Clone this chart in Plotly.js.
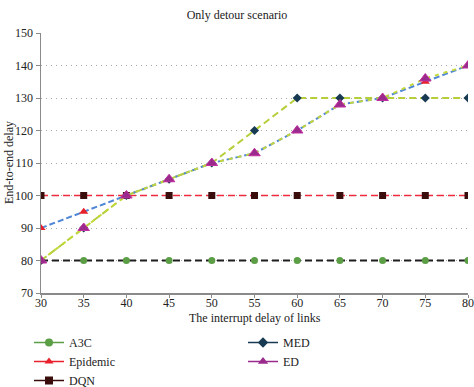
<!DOCTYPE html>
<html>
<head>
<meta charset="utf-8">
<script src="https://cdn.plot.ly/plotly-3.0.1.min.js"></script>
<style>html,body{margin:0;padding:0;background:#fff;}#chart{width:474px;height:387px;}</style>
</head>
<body>
<div id="chart"></div>
<script>
const xVals = [30, 35, 40, 45, 50, 55, 60, 65, 70, 75, 80];
const a3c = [80, 80, 80, 80, 80, 80, 80, 80, 80, 80, 80];
const epidemic = [90, 95, 100, 105, 110, 113, 120, 128, 130, 135, 140];
const dqn = [100, 100, 100, 100, 100, 100, 100, 100, 100, 100, 100];
const med = [80, 90, 100, 105, 110, 120, 130, 130, 130, 130, 130];
const ed = [80, 90, 100, 105, 110, 113, 120, 128, 130, 136, 140];
const seriesNames = ['A3C', 'Epidemic', 'DQN', 'MED', 'ED'];
const chartTitle = 'Only detour scenario';
const xTitle = 'The interrupt delay of links';
const yTitle = 'End-to-end delay';

const FONT = 'Liberation Serif, DejaVu Serif, serif';
const nul = [null];

const traces = [
  {x: xVals, y: a3c, mode: 'lines+markers', showlegend: false,
   line: {color: '#1e1e1e', width: 2, dash: '7px,4px'},
   marker: {symbol: 'circle', size: 7, color: '#5b9e45'}},
  {x: xVals, y: dqn, mode: 'lines+markers', showlegend: false,
   line: {color: '#ee2a3c', width: 1.6, dash: '7px,4px'},
   marker: {symbol: 'square', size: 7, color: '#3a0d0d'}},
  {x: xVals, y: med, mode: 'lines+markers', showlegend: false,
   line: {color: '#b4cf3a', width: 2, dash: '7px,4px'},
   marker: {symbol: 'diamond', size: 7, color: '#173a52'}},
  {x: xVals, y: epidemic, mode: 'lines+markers', showlegend: false,
   line: {color: '#4f86d6', width: 2, dash: '6px,3px'},
   marker: {symbol: 'triangle-up', size: 8, color: '#e8202c'}},
  {x: xVals, y: ed, mode: 'lines+markers', showlegend: false,
   line: {color: '#c4d83a', width: 2, dash: '4px,5px'},
   marker: {symbol: 'triangle-up', size: 10, color: '#9a2a8c', line: {color: '#c02fa0', width: 1}}},
  {x: nul, y: nul, name: seriesNames[0], mode: 'lines+markers', legend: 'legend',
   line: {color: '#5b9e45', width: 1.5}, marker: {symbol: 'circle', size: 8, color: '#5b9e45'}},
  {x: nul, y: nul, name: seriesNames[1], mode: 'lines+markers', legend: 'legend',
   line: {color: '#e8202c', width: 1.5}, marker: {symbol: 'triangle-up', size: 8, color: '#e8202c'}},
  {x: nul, y: nul, name: seriesNames[2], mode: 'lines+markers', legend: 'legend',
   line: {color: '#3a0d0d', width: 1.5}, marker: {symbol: 'square', size: 8, color: '#3a0d0d'}},
  {x: nul, y: nul, name: seriesNames[3], mode: 'lines+markers', legend: 'legend2',
   line: {color: '#173a52', width: 1.5}, marker: {symbol: 'diamond', size: 8, color: '#173a52'}},
  {x: nul, y: nul, name: seriesNames[4], mode: 'lines+markers', legend: 'legend2',
   line: {color: '#9a2a8c', width: 1.5}, marker: {symbol: 'triangle-up', size: 9, color: '#9a2a8c'}}
];

const legendBase = {
  xref: 'container', yref: 'container', yanchor: 'top', xanchor: 'left',
  bgcolor: 'rgba(0,0,0,0)', font: {family: FONT, size: 12, color: '#222'},
  tracegroupgap: 0, itemclick: false
};

const txtFont = {family: FONT, size: 12, color: '#222'};

const layout = {
  width: 474, height: 387,
  paper_bgcolor: '#fff', plot_bgcolor: '#fff',
  margin: {l: 41, r: 6, t: 33, b: 94, autoexpand: false},
  font: txtFont,
  title: {text: chartTitle, font: txtFont,
          x: 0.5, xanchor: 'center', y: 1 - 15/387, yanchor: 'middle', xref: 'container', yref: 'container'},
  xaxis: {
    range: [30, 80], tickmode: 'array', tickvals: xVals, ticktext: xVals.map(String),
    showgrid: false, zeroline: false, showline: true, linecolor: '#8a8a8a', linewidth: 1.5,
    ticks: 'outside', ticklen: 3, tickcolor: '#8a8a8a', tickangle: 0, automargin: false,
    ticklabelstandoff: -5,
    tickfont: txtFont
  },
  yaxis: {
    range: [70, 150], dtick: 10, tick0: 70, automargin: false,
    showgrid: true, gridcolor: '#a8a8a8', griddash: '1px,4px', gridwidth: 1,
    zeroline: false, showline: true, linecolor: '#8a8a8a', linewidth: 1.5,
    ticks: 'outside', ticklen: 4, tickcolor: '#8a8a8a',
    tickfont: txtFont
  },
  annotations: [
    {text: xTitle, xref: 'paper', yref: 'paper', x: 0.5, y: -25/260,
     xanchor: 'center', yanchor: 'middle', showarrow: false, font: txtFont},
    {text: yTitle, xref: 'paper', yref: 'paper', x: -32/427, y: 0.5, textangle: -90,
     xanchor: 'center', yanchor: 'middle', showarrow: false, font: txtFont}
  ],
  legend: Object.assign({}, legendBase, {x: 29/474, y: 1 - 328/387}),
  legend2: Object.assign({}, legendBase, {x: 243/474, y: 1 - 328/387}),
  showlegend: true
};

Plotly.newPlot('chart', traces, layout, {displayModeBar: false, staticPlot: true});
</script>
</body>
</html>
